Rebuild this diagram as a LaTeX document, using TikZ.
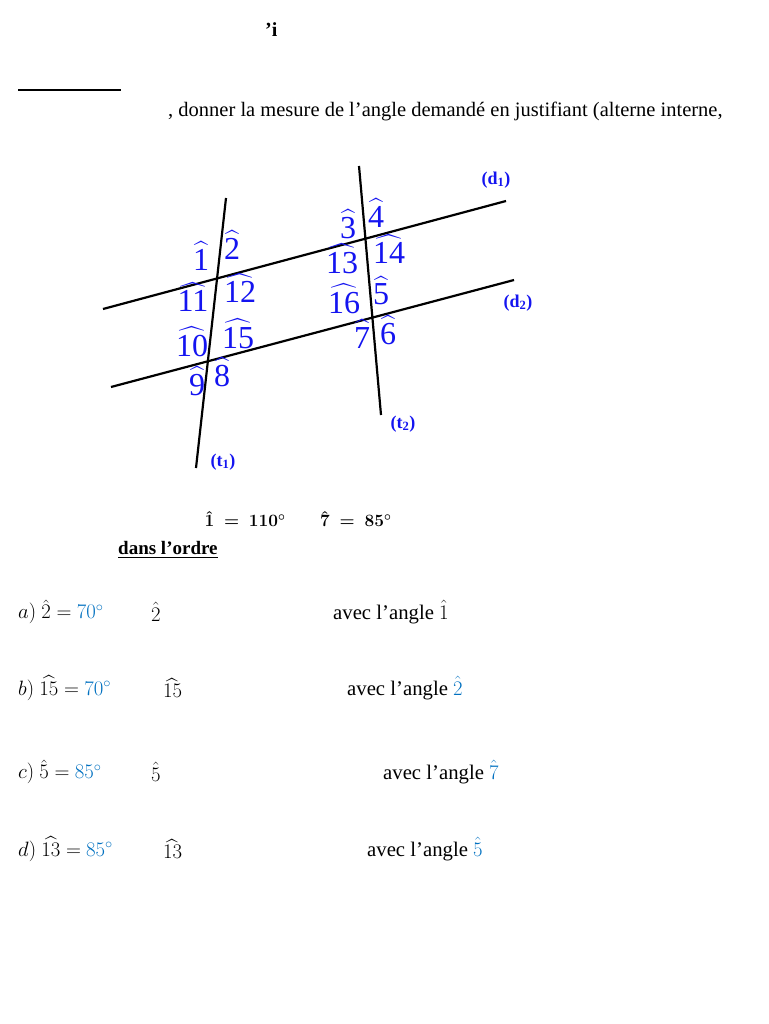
\documentclass[tikz,border=0pt]{standalone}
\usepackage{amsmath}
\usepackage{fontspec}
\setmainfont{Liberation Serif}
\definecolor{lblue}{RGB}{20,20,240}
\definecolor{ans}{RGB}{0,112,192}
\begin{document}
\begin{tikzpicture}[x=1pt,y=-1pt,
  ln/.style={line width=2.2pt},
  lab/.style={text=lblue,font=\fontsize{32}{32}\selectfont,inner sep=0pt},
  nm/.style={text=lblue,font=\fontsize{18}{18}\selectfont\bfseries,inner sep=0pt},
  tx/.style={font=\fontsize{20.74}{20.74}\selectfont,inner sep=0pt,anchor=west}]
\useasboundingbox (0,0) rectangle (768,1024);
\node[tx,font=\fontsize{20}{20}\selectfont\bfseries] (h) at (265,30) {’i};
\draw[line width=1.4pt] (18,90) -- (121,90);
\node[tx,font=\fontsize{20.5}{20.5}\selectfont] (intro) at (168,111) {, donner la mesure de l’angle demandé en justifiant (alterne interne,};
% lines
\draw[ln] (196,468) -- (226,198);
\draw[ln] (359,166) -- (381,415);
\draw[ln] (103,309) -- (506,201);
\draw[ln] (111,387) -- (514,280);
\newcommand{\hh}[1]{$\widehat{\text{#1}}$}
\node[lab] (a1) at (201,256) {\hh{1}};
\node[lab] (a2) at (232,245) {\hh{2}};
\node[lab] (a11) at (193,297) {\hh{11}};
\node[lab] (a12) at (240,288) {\hh{12}};
\node[lab] (a10) at (192,342) {\hh{10}};
\node[lab] (a15) at (238,334) {\hh{15}};
\node[lab] (a9) at (197,381) {\hh{9}};
\node[lab] (a8) at (222,372) {\hh{8}};
\node[lab] (a3) at (348,224) {\hh{3}};
\node[lab] (a4) at (376,213) {\hh{4}};
\node[lab] (a13) at (342,259) {\hh{13}};
\node[lab] (a14) at (389,249) {\hh{14}};
\node[lab] (a16) at (344,299) {\hh{16}};
\node[lab] (a5) at (381,291) {\hh{5}};
\node[lab] (a7) at (362,334) {\hh{7}};
\node[lab] (a6) at (388,330) {\hh{6}};
\node[nm] (d1) at (496,180) {(d\textsubscript{1})};
\node[nm] (d2) at (518,303) {(d\textsubscript{2})};
\node[nm] (t2) at (403,424) {(t\textsubscript{2})};
\node[nm] (t1) at (223,462) {(t\textsubscript{1})};
\node[font=\fontsize{17.28}{17.28}\selectfont,inner sep=0pt] (given) at (298,519) {$\boldsymbol{\hat{1}\ =\ 110^\circ}$\qquad$\boldsymbol{\hat{7}\ =\ 85^\circ}$};
\node[tx,font=\fontsize{19}{19}\selectfont\bfseries] (ord) at (118,550) {\underline{dans l’ordre}};
\newcommand{\an}[1]{\textcolor{ans}{$#1^\circ$}}
\node[tx] (qa) at (18,612) {$a)\ \hat{2}=$ \an{70}};
\node[tx] (qa2) at (151,612) {$\hat{2}$};
\node[tx] (qa3) at (333,612) {avec l’angle $\hat{1}$};
\node[tx] (qb) at (18,688) {$b)\ \widehat{15}=$ \an{70}};
\node[tx] (qb2) at (163,688) {$\widehat{15}$};
\node[tx] (qb3) at (347,688) {avec l’angle \textcolor{ans}{$\hat{2}$}};
\node[tx] (qc) at (18,772) {$c)\ \hat{5}=$ \an{85}};
\node[tx] (qc2) at (151,772) {$\hat{5}$};
\node[tx] (qc3) at (383,772) {avec l’angle \textcolor{ans}{$\hat{7}$}};
\node[tx] (qd) at (18,849) {$d)\ \widehat{13}=$ \an{85}};
\node[tx] (qd2) at (163,849) {$\widehat{13}$};
\node[tx] (qd3) at (367,849) {avec l’angle \textcolor{ans}{$\hat{5}$}};
\end{tikzpicture}
\end{document}
